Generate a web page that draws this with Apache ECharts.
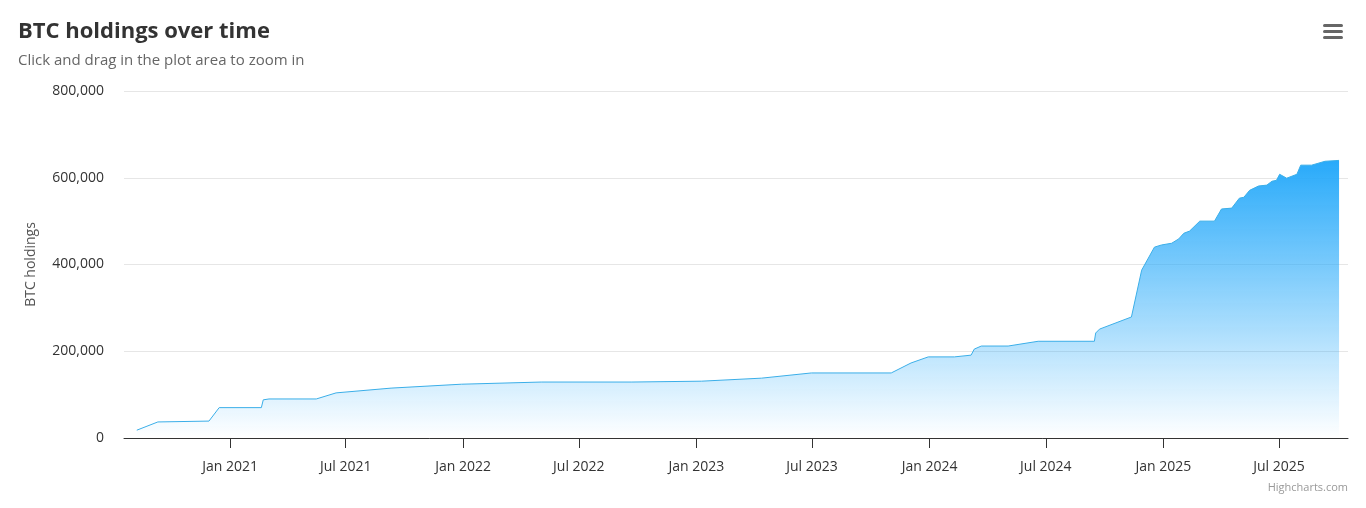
<!DOCTYPE html>
<html>
<head>
<meta charset="utf-8">
<title>BTC holdings over time</title>
<script src="https://cdn.jsdelivr.net/npm/echarts@6/dist/echarts.min.js"></script>
<style>
  html, body { margin: 0; padding: 0; background: #fff; }
  #main { width: 1366px; height: 508px; }
</style>
</head>
<body>
<div id="main"></div>
<script type="text/javascript">
    // data
    var dates = ['2020-08-08','2020-09-10','2020-11-29','2020-12-15','2021-02-19','2021-02-22','2021-03-03',
        '2021-05-16','2021-06-16','2021-09-10','2021-12-29','2022-05-03','2022-09-22','2023-01-09','2023-04-13',
        '2023-06-30','2023-11-02','2023-12-03','2023-12-30','2024-02-09','2024-03-06','2024-03-11','2024-03-22',
        '2024-05-03','2024-06-19','2024-09-15','2024-09-17','2024-09-23','2024-11-12','2024-11-28','2024-12-18',
        '2024-12-29','2025-01-14','2025-01-25','2025-02-02','2025-02-11','2025-02-27','2025-03-22','2025-04-02',
        '2025-04-18','2025-04-30','2025-05-07','2025-05-16','2025-05-30','2025-06-12','2025-06-20','2025-06-27',
        '2025-07-02','2025-07-13','2025-07-29','2025-08-04','2025-08-21','2025-09-11','2025-10-03'];
    var holdings = [18000,37000,39000,70000,70000,88000,90000,
        90000,104000,115000,124000,129000,129000,131000,138000,
        150000,150000,173000,187000,187000,191000,205000,212000,
        212000,223000,223000,242000,251000,279000,387000,440000,
        445000,449000,459000,472000,477000,500000,500000,528000,
        530000,553000,555000,571000,581000,583000,592000,594000,
        608000,599000,608000,629000,629000,638000,640000];
    var yTicks = [0, 200000, 400000, 600000, 800000];

    var points = [];
    for (var i = 0; i < dates.length; i++) {
        points.push([dates[i], holdings[i]]);
    }
    var months = ['Jan','Feb','Mar','Apr','May','Jun','Jul','Aug','Sep','Oct','Nov','Dec'];
    var day = 24 * 3600 * 1000;

    var myChart = echarts.init(document.getElementById('main'));
    myChart.setOption({
        animation: false,
        title: {
            text: 'BTC holdings over time',
            subtext: 'Click and drag in the plot area to zoom in',
            left: 13, top: 16,
            textStyle: { fontFamily: 'Open Sans', fontSize: 22, fontWeight: 'bold', color: '#333' },
            subtextStyle: { fontFamily: 'Open Sans', fontSize: 15, color: '#666' },
            itemGap: 10
        },
        graphic: [
            { type: 'rect', shape: { x: 1323, y: 24, width: 20, height: 3, r: 1.5 }, style: { fill: '#666' } },
            { type: 'rect', shape: { x: 1323, y: 30, width: 20, height: 3, r: 1.5 }, style: { fill: '#666' } },
            { type: 'rect', shape: { x: 1323, y: 36, width: 20, height: 3, r: 1.5 }, style: { fill: '#666' } },
            { type: 'text', right: 18, bottom: 15, style: { text: 'Highcharts.com', fill: '#999', fontSize: 11, fontFamily: 'Open Sans' } }
        ],
        grid: { left: 124, right: 18, top: 91, bottom: 70 },
        xAxis: {
            type: 'time',
            min: new Date('2020-07-19').getTime(),
            max: new Date('2025-10-17').getTime(),
            minInterval: 180 * day,
            maxInterval: 184 * day,
            axisLine: { lineStyle: { color: '#333' } },
            axisTick: { show: true, length: 10, lineStyle: { color: '#333' } },
            splitLine: { show: false },
            axisLabel: {
                color: '#333', fontSize: 14, fontFamily: 'Open Sans', margin: 22,
                formatter: function (v) {
                    var d = new Date(v);
                    return months[d.getMonth()] + ' ' + d.getFullYear();
                }
            }
        },
        yAxis: {
            type: 'value',
            min: 0, max: 800000, interval: 200000,
            name: 'BTC holdings',
            nameLocation: 'middle',
            nameGap: 86,
            nameTextStyle: { color: '#555', fontSize: 14, fontFamily: 'Open Sans' },
            axisLine: { show: false },
            axisTick: { show: false },
            splitLine: { lineStyle: { color: '#e6e6e6' } },
            axisLabel: {
                color: '#333', fontSize: 14, fontFamily: 'Open Sans', margin: 20,
                formatter: function (v) { return v.toLocaleString('en-US'); }
            }
        },
        series: [{
            name: 'BTC holdings',
            type: 'line',
            data: points,
            showSymbol: false,
            lineStyle: { color: '#3aaee8', width: 1 },
            areaStyle: {
                opacity: 1,
                color: new echarts.graphic.LinearGradient(0, 0, 0, 1, [
                    { offset: 0, color: 'rgba(40,170,250,1)' },
                    { offset: 1, color: 'rgba(40,170,250,0)' }
                ], false)
            }
        }]
    });
</script>
</body>
</html>
